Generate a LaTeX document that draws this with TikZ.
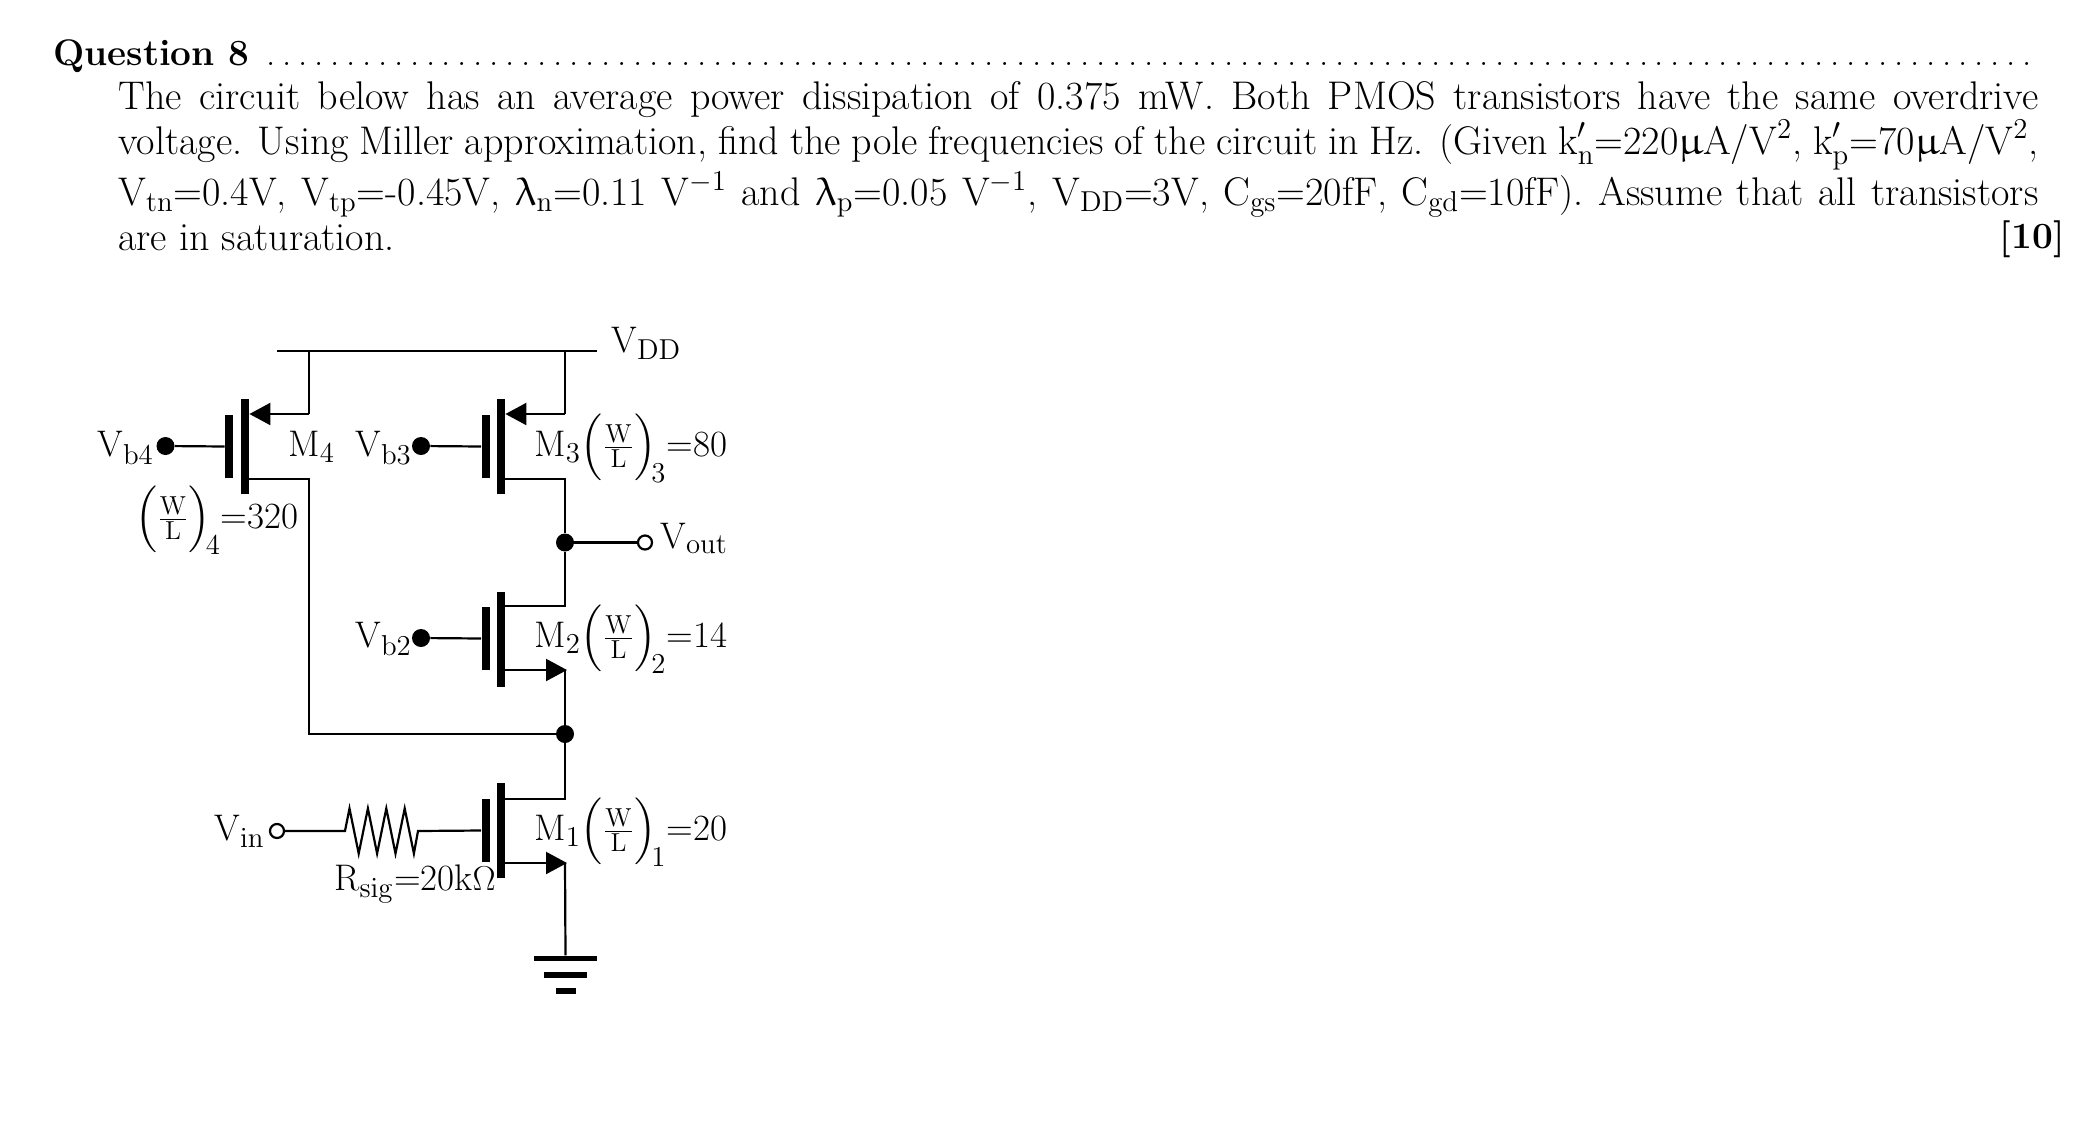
\documentclass[tikz,border=0pt]{standalone}
\usepackage{amsmath,amssymb}
\usepackage{upgreek}
\usetikzlibrary{arrows.meta, calc, positioning}
\DeclareMathSizes{18.5}{18.5}{14.4}{11}
\DeclareMathSizes{20}{20}{15}{11}
\newcommand{\wlratio}[1]{$\Big(\frac{\mbox{\fontsize{13}{14}\selectfont W}}{\mbox{\fontsize{13}{14}\selectfont L}}\Big)_{\!#1}$}
\begin{document}
\begin{tikzpicture}[x=0.5pt, y=-0.5pt]

% TikZ styles
\tikzset{
  wire/.style={line width=1.1pt},
  arrowtip/.style={-{Triangle[length=10.5pt, width=11pt]}, line width=1.1pt},
  channel/.style={rectangle, fill=black, inner sep=0pt, minimum width=4pt, minimum height=47.5pt},
  gatebar/.style={rectangle, fill=black, inner sep=0pt, minimum width=4pt, minimum height=31.5pt},
  dot/.style={circle, fill=black, inner sep=0pt, minimum size=9pt},
  port/.style={circle, draw=black, fill=white, line width=1.1pt, inner sep=0pt, minimum size=7pt},
  gndbar/.style={rectangle, fill=black, inner sep=0pt, minimum height=2.8pt},
  label/.style={anchor=base west, inner sep=0pt, font=\fontsize{18.5}{22.5}\selectfont},
  bodytext/.style={anchor=base west, inner sep=0pt, font=\fontsize{20}{22.5}\selectfont}
}
\useasboundingbox (0,0) rectangle (2092,1141);

%==========================
% Question text
%==========================
\node[label] (head) at (53,65) {\textbf{Question 8}};
\node[label] (dots) at (262.7,65) {\hbox to 885.8pt{\leaders\hbox to 7.98pt{\hss.\hss}\hfill}};
\node[bodytext, text width=960pt, align=justify] (body) at (118,109)
  {The circuit below has an average power dissipation of 0.375 mW. Both PMOS transistors have the same overdrive\linebreak
   voltage. Using Miller approximation, find the pole frequencies of the circuit in Hz. (Given k$'_{\mathrm{n}}$=220$\upmu$A/V$^2$, k$'_{\mathrm{p}}$=70$\upmu$A/V$^2$,\linebreak
   V$_{\mathrm{tn}}$=0.4V, V$_{\mathrm{tp}}$=-0.45V, $\uplambda_{\mathrm{n}}$=0.11 V$^{-1}$ and $\uplambda_{\mathrm{p}}$=0.05 V$^{-1}$, V$_{\mathrm{DD}}$=3V, C$_{\mathrm{gs}}$=20fF, C$_{\mathrm{gd}}$=10fF). Assume that all transistors\linebreak
   are in saturation.};
\node[label, anchor=base east] (marks) at (2065,248) {\textbf{[10]}};

%==========================
% Transistors
%==========================
\node[channel] (m4ch) at (245,446.5) {};
\node[gatebar] (m4g)  at (229,446.5) {};
\node[channel] (m3ch) at (501,446.5) {};
\node[gatebar] (m3g)  at (485.5,446.5) {};
\node[channel] (m2ch) at (501,639) {};
\node[gatebar] (m2g)  at (485.5,638.5) {};
\node[channel] (m1ch) at (501,830.5) {};
\node[gatebar] (m1g)  at (485.5,830.5) {};

% Rails and junctions
\coordinate (vddl) at (277,351);
\coordinate (vddr) at (597,351);
\coordinate (vdd4) at (309,351);
\coordinate (vdd3) at (565,351);
\coordinate (s4) at (309,414);
\coordinate (d4) at (309,479);
\coordinate (s3) at (565,414);
\coordinate (d3) at (565,479);
\coordinate (d2) at (565,606);
\coordinate (s2) at (565,670);
\coordinate (d1) at (565,799);
\coordinate (s1) at (565,863);
\coordinate (fold) at (309,734);
\node[dot] (nout) at (565,542.5) {};
\node[dot] (nmid) at (565,734) {};

% Ports
\node[dot] (vb4) at (165.5,446) {};
\node[dot] (vb3) at (421,446) {};
\node[dot] (vb2) at (421,638) {};
\node[port] (vout) at (645,542.5) {};
\node[port] (vin) at (277,831) {};

% Ground
\node[gndbar, minimum width=31.5pt] (gnd1) at (565.5,958.5) {};
\node[gndbar, minimum width=21.5pt] (gnd2) at (565.5,975) {};
\node[gndbar, minimum width=10pt]   (gnd3) at (565.5,991) {};

%==========================
% Wires
%==========================
\draw[wire] (vddl) -- (vddr);
\draw[wire] (vdd4) -- (s4);
\draw[wire] (vdd3) -- (s3);
\draw[arrowtip] (s4) -- (m4ch.east |- s4);
\draw[arrowtip] (s3) -- (m3ch.east |- s3);
\draw[wire] (m4ch.east |- d4) -- (d4) -- (fold) -- (nmid);
\draw[wire] (m3ch.east |- d3) -- (d3) -- (nout);
\draw[wire] (nout) -- (vout);
\draw[wire] (nout) -- (d2) -- (m2ch.east |- d2);
\draw[arrowtip] (m2ch.east |- s2) -- ($(s2)+(2,0)$);
\draw[wire] (s2) -- (nmid);
\draw[wire] (nmid) -- (d1) -- (m1ch.east |- d1);
\draw[arrowtip] (m1ch.east |- s1) -- ($(s1)+(2,0)$);
\draw[wire] (s1) -- (gnd1.north);
\draw[wire] (vb4) -- (m4g.west);
\draw[wire] (vb3) -- (m3g.west);
\draw[wire] (vb2) -- (m2g.west);

% Input resistor
\coordinate (rin) at (345,831);
\coordinate (rout) at (418,831);
\draw[wire, line join=miter] (vin) -- (rin) -- ++(4.5,-22.5)
  \foreach \i in {1,2,3} {-- ++(9.2,45) -- ++(9.2,-45)}
  -- ++(9.2,45) -- (rout) -- (m1g.west);

%==========================
% Labels
%==========================
\node[label] (lvdd) at (611,352) {V$_{\mathrm{DD}}$};
\node[label] (lvb4) at (97,456) {V$_{\mathrm{b4}}$};
\node[label] (lm4)  at (288,456) {M$_4$};
\node[label] (lvb3) at (355,456) {V$_{\mathrm{b3}}$};
\node[label] (lm3)  at (534,456) {M$_3$\wlratio{3}=80};
\node[label] (lw4)  at (135,528) {\wlratio{4}=320};
\node[label] (lout) at (660,548) {V$_{\mathrm{out}}$};
\node[label] (lvb2) at (355,647) {V$_{\mathrm{b2}}$};
\node[label] (lm2)  at (534,647) {M$_2$\wlratio{2}=14};
\node[label] (lvin) at (214,840) {V$_{\mathrm{in}}$};
\node[label] (lm1)  at (534,840) {M$_1$\wlratio{1}=20};
\node[label] (lrs)  at (334,890) {R$_{\mathrm{sig}}$=20k$\Omega$};
\end{tikzpicture}
\end{document}
